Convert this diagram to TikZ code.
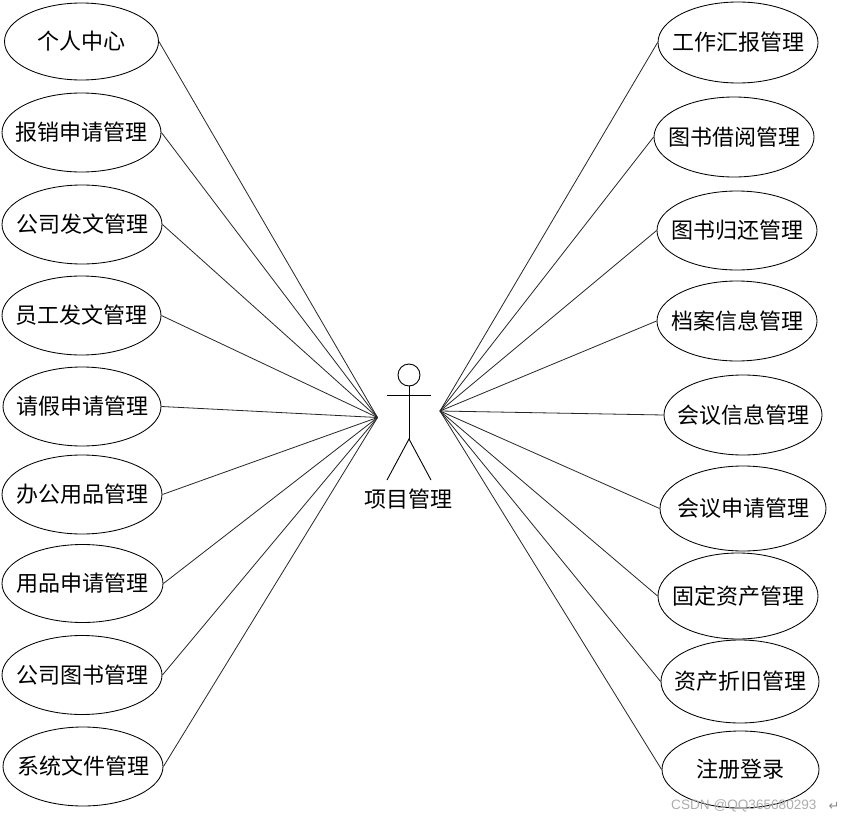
\documentclass[tikz,border=0pt]{standalone}
\usepackage{fontspec}
\usetikzlibrary{shapes.geometric}
\newfontfamily\cjk{Noto Sans CJK SC}
\newfontfamily\dejavu{DejaVu Sans}
\setmainfont{Liberation Sans}
\tikzset{
  uc/.style={draw=black,line width=.85pt,ellipse,inner sep=0pt,font=\cjk\fontsize{22}{24}\selectfont},
  link/.style={draw=black!85,line width=.8pt},
  limb/.style={draw=black,line width=.9pt},
  mark text/.style={text=black!32,font=\fontsize{13.6}{16}\selectfont,inner sep=0pt}
}
\newcommand{\uca}[6]{\node[uc,minimum width=#4pt,minimum height=#5pt] (#1) at (#2,#3) {\makebox[0pt]{#6}};}
\begin{document}
\begin{tikzpicture}[x=1pt,y=-1pt]
\useasboundingbox (0,0) rectangle (847,822);
\fill[white] (0,0) rectangle (847,822);
% left
\uca{l1}{81.5}{41.5}{154}{77}{个人中心}
\uca{l2}{81.5}{132.5}{159}{79}{报销申请管理}
\uca{l3}{82}{224.5}{160}{79}{公司发文管理}
\uca{l4}{81.5}{315.5}{159}{79}{员工发文管理}
\uca{l5}{82}{406.5}{158}{79}{请假申请管理}
\uca{l6}{82}{494.5}{160}{79}{办公用品管理}
\uca{l7}{82.5}{583.5}{161}{78}{用品申请管理}
\uca{l8}{82}{675}{160}{79}{公司图书管理}
\uca{l9}{83}{766.5}{160}{79}{系统文件管理}
% right
\uca{r1}{738}{42.5}{160}{81}{工作汇报管理}
\uca{r2}{734}{137}{160}{80}{图书借阅管理}
\uca{r3}{737}{230.5}{160}{79}{图书归还管理}
\uca{r4}{737}{321}{160}{80}{档案信息管理}
\uca{r5}{743}{415}{158}{80}{会议信息管理}
\uca{r6}{743}{508.5}{166}{85}{会议申请管理}
\uca{r7}{738}{596}{160}{86}{固定资产管理}
\uca{r8}{740}{681.5}{158}{83}{资产折旧管理}
\uca{r9}{740.5}{769.5}{157}{77}{注册登录}
% actor
\node[draw=black,line width=.9pt,circle,minimum size=22pt,inner sep=0pt] (head) at (409,375) {};
\coordinate (armL) at (387,395);
\coordinate (armR) at (431,395);
\coordinate (hip) at (409,439);
\coordinate (footL) at (387,480);
\coordinate (footR) at (431,480);
\draw[limb] (head.south) -- (hip);
\draw[limb] (armL) -- (armR);
\draw[limb] (footL) -- (hip) -- (footR);
\node[font=\cjk\fontsize{22}{24}\selectfont,inner sep=0pt] (actor) at (408.5,499) {项目管理};
\coordinate (hubL) at (377.5,417.5);
\coordinate (hubR) at (440,411);
\foreach \n in {l1,l2,l3,l4,l5,l6,l7,l8,l9} \draw[link] (\n.east) -- (hubL);
\foreach \n in {r1,r2,r3,r4,r5,r6,r7,r8,r9} \draw[link] (\n.west) -- (hubR);
% watermark
\node[mark text,anchor=west] (wm) at (671,806) {CSDN @QQ365680293};
\node[text=black!45,font=\dejavu\fontsize{13}{14}\selectfont,inner sep=0pt] (ret) at (834,806) {↵};
\end{tikzpicture}
\end{document}
